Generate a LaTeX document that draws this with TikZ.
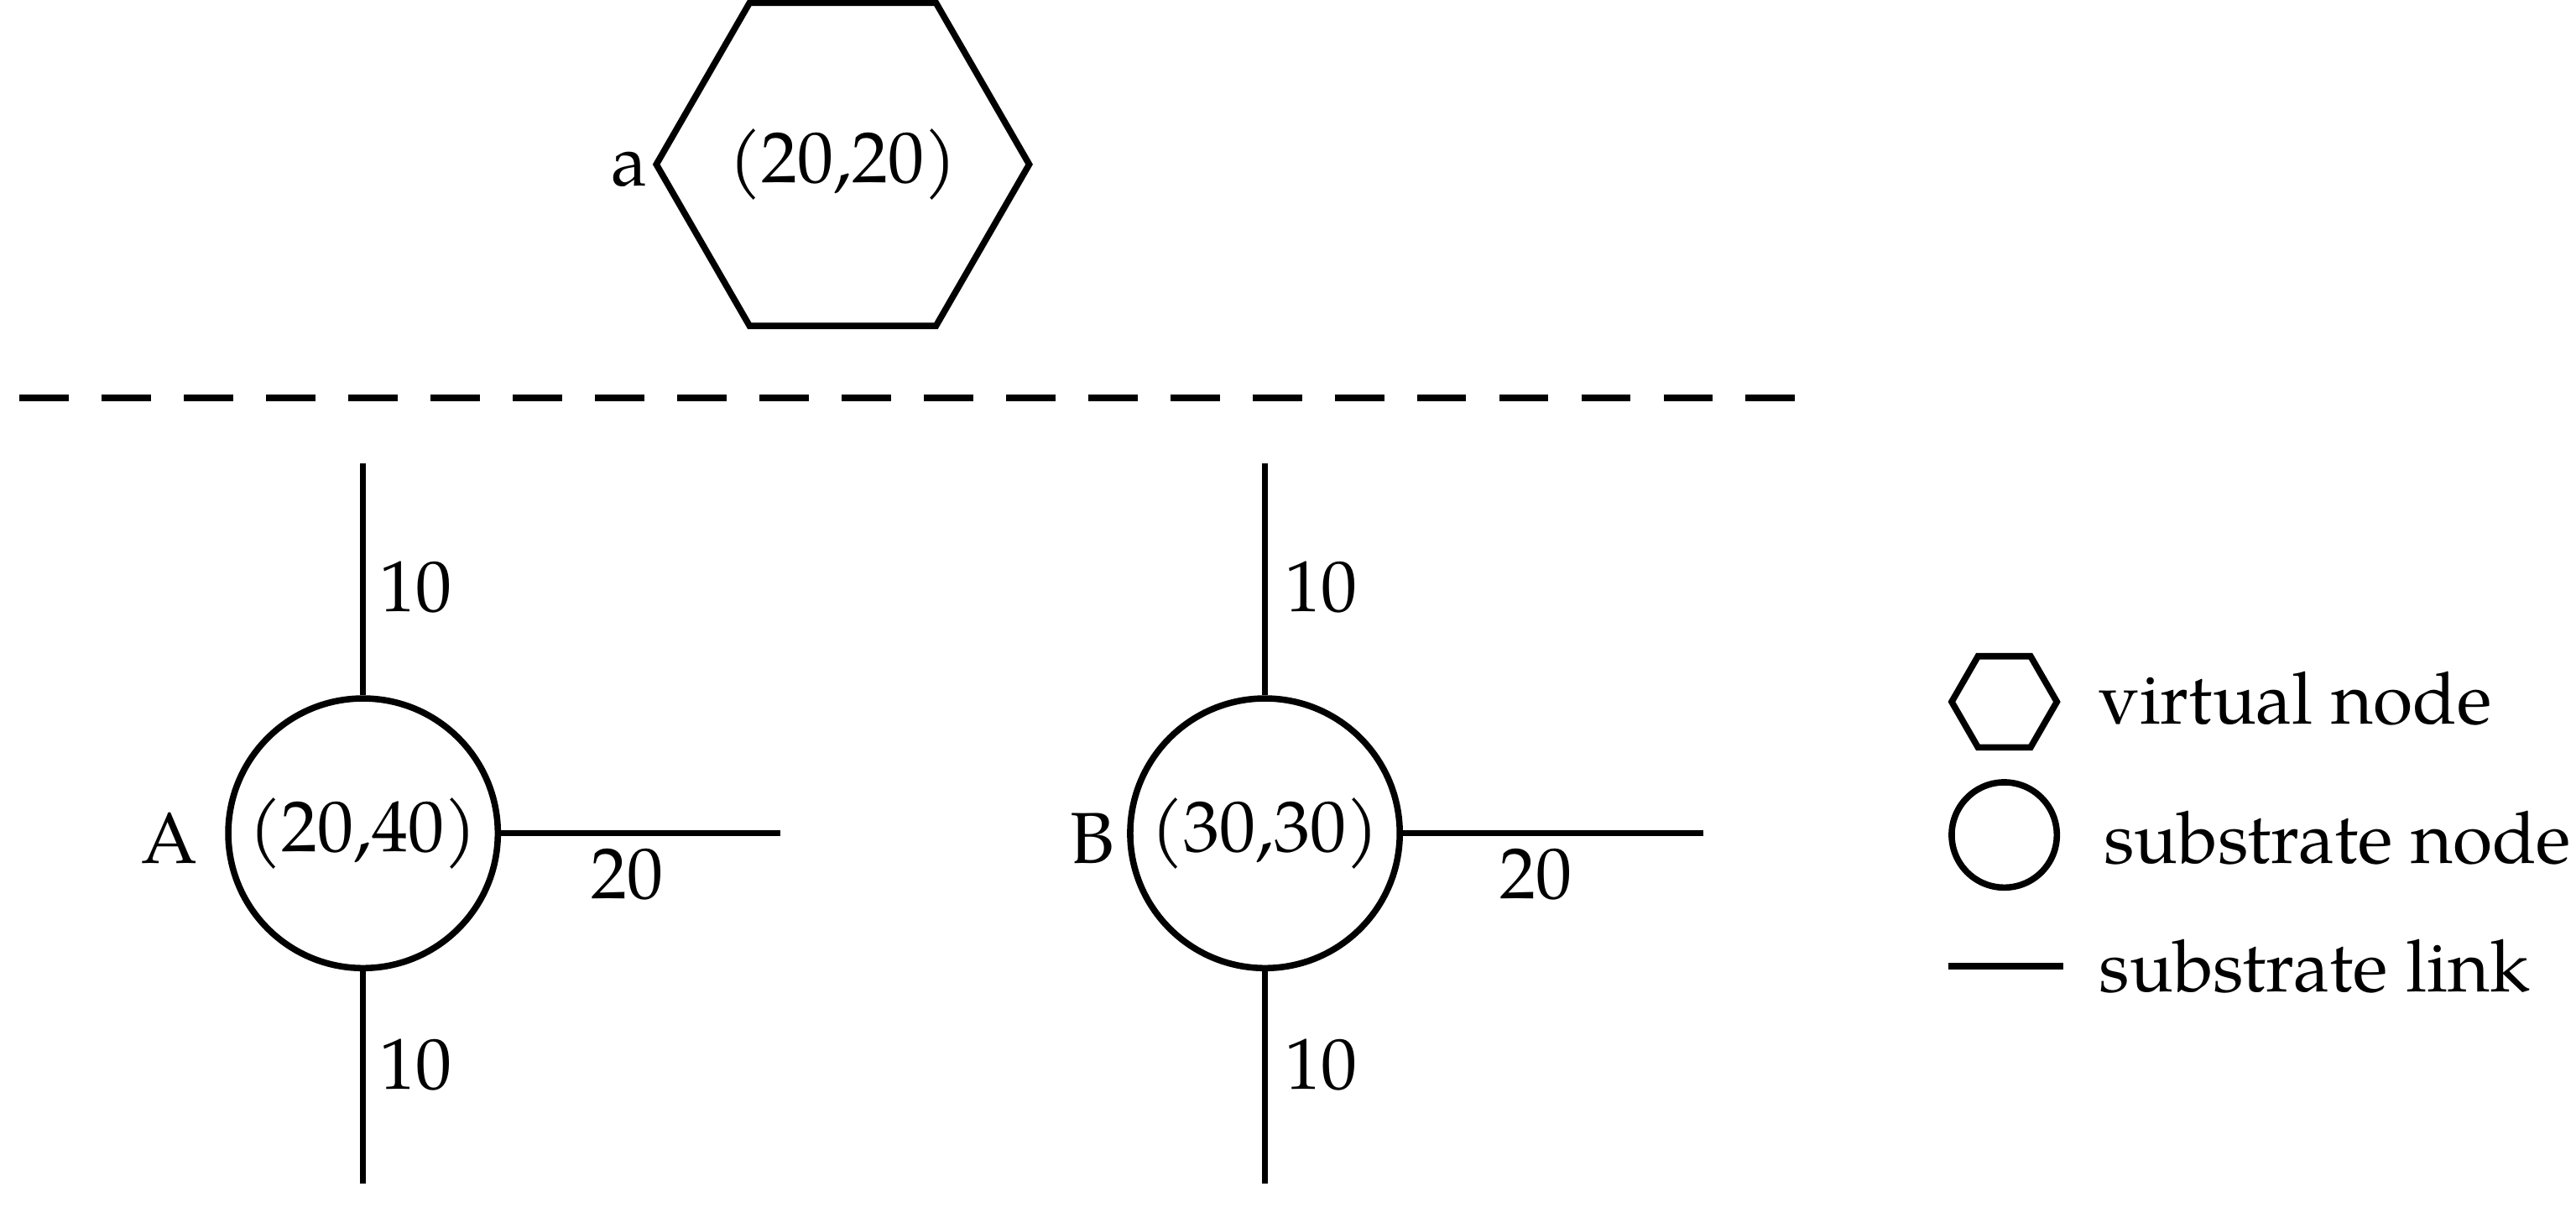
\documentclass[tikz,border=0pt]{standalone}
\usepackage{fontspec}
\setmainfont{TeX Gyre Pagella}
\usetikzlibrary{shapes.geometric}
\begin{document}
\begin{tikzpicture}[x=0.01cm,y=-0.01cm,
  ln/.style={line width=1.1pt},
  lbl/.style={font=\fontsize{12.5}{15}\selectfont, inner sep=0pt},
  snode/.style={circle,draw,line width=1.1pt,minimum size=1.64cm,inner sep=0pt,font=\fontsize{12.5}{15}\selectfont},
  hexn/.style={regular polygon,regular polygon sides=6,draw,line width=1.1pt,inner sep=0pt}]
\useasboundingbox (0,0) rectangle (1568,741);
% virtual node
\node[hexn,minimum size=1.87cm,font=\fontsize{12.5}{15}\selectfont] (va) at (513,100) {(20,20)};
\node[lbl] (la) at (383,103) {a};
% dashed separator
\coordinate (d1) at (12,242); \coordinate (d2) at (1098,242);
\draw[ln,dash pattern=on 0.3cm off 0.2cm] (d1) -- (d2);
% substrate node A
\node[snode] (A) at (221,507) {(20,40)};
\coordinate (At) at (221,282); \coordinate (Ab) at (221,720); \coordinate (Ar) at (475,507);
\draw[ln] (A.north) -- (At);
\draw[ln] (A.south) -- (Ab);
\draw[ln] (A.east) -- (Ar);
\node[lbl] (lA) at (103,510) {A};
\node[lbl] (A1) at (253,357) {10};
\node[lbl] (A2) at (382,532) {20};
\node[lbl] (A3) at (253,648) {10};
% substrate node B
\node[snode] (B) at (770,507) {(30,30)};
\coordinate (Bt) at (770,282); \coordinate (Bb) at (770,720); \coordinate (Br) at (1037,507);
\draw[ln] (B.north) -- (Bt);
\draw[ln] (B.south) -- (Bb);
\draw[ln] (B.east) -- (Br);
\node[lbl] (lB) at (665,510) {B};
\node[lbl] (B1) at (804,357) {10};
\node[lbl] (B2) at (935,532) {20};
\node[lbl] (B3) at (804,648) {10};
% legend
\node[hexn,minimum size=0.64cm] (lh) at (1220,427) {};
\node[lbl,anchor=west] (lht) at (1277,425) {virtual node};
\node[circle,draw,line width=1.1pt,minimum size=0.64cm,inner sep=0pt] (lc) at (1220,508) {};
\node[lbl,anchor=west] (lct) at (1280,510) {substrate node};
\coordinate (l1) at (1186,588); \coordinate (l2) at (1256,588);
\draw[ln] (l1) -- (l2);
\node[lbl,anchor=west] (llt) at (1277,588) {substrate link};
\end{tikzpicture}
\end{document}
